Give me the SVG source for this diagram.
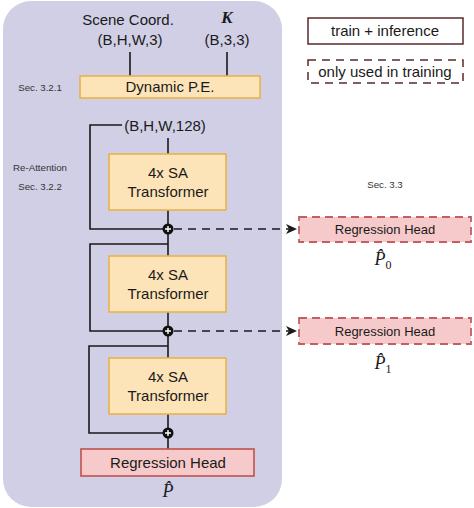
<svg xmlns="http://www.w3.org/2000/svg" width="474" height="508" viewBox="0 0 474 508">
<style>
text{font-family:"Liberation Sans",Arial,sans-serif;fill:#1a1a1a;text-anchor:middle}
.lbl{font-size:15px}
.small{font-size:9.7px;fill:#333}
.math{font-family:"Liberation Serif","DejaVu Serif",serif;font-style:italic;font-size:18px}
.tf{fill:#fde4b8;stroke:#e8b24c;stroke-width:1.6}
.rh{fill:#f6caca;stroke:#c0504d;stroke-width:1.6}
.rhd{fill:#f6caca;stroke:#c06060;stroke-width:1.8;stroke-dasharray:8,5}
.ln{fill:none;stroke:#1a1a1a;stroke-width:1.6}
.dash{fill:none;stroke:#1a1a1a;stroke-width:1.6;stroke-dasharray:8,6}
</style>
<defs>
<marker id="arr" markerWidth="12" markerHeight="10" refX="11" refY="5" orient="auto" markerUnits="userSpaceOnUse">
<path d="M0,0 L11,5 L0,10 L3,5 Z" fill="#1a1a1a"/>
</marker>
<g id="plus">
<circle r="5.5" fill="#111"/>
<path d="M-3,0 H3 M0,-3 V3" stroke="#fff" stroke-width="1.4"/>
</g>
</defs>
<rect x="3" y="1" width="279" height="506" rx="28" fill="#d0cfe5"/>
<g id="connectors">
<path class="ln" d="M130,52 V76 M227,52 V76"/>
<path class="ln" d="M168,138 V154"/>
<path class="ln" d="M122,125 H90 V229 H168"/>
<path class="ln" d="M168,210 V256"/>
<path class="ln" d="M168,244 H90 V331 H168"/>
<path class="ln" d="M168,312 V358"/>
<path class="ln" d="M168,346 H89 V433 H168"/>
<path class="ln" d="M168,414 V449"/>
<path class="dash" d="M174,229 H297" marker-end="url(#arr)"/>
<path class="dash" d="M174,331 H297" marker-end="url(#arr)"/>
</g>
<g id="inputs">
<text class="lbl" x="128" y="25">Scene Coord.</text>
<text class="lbl" x="130" y="45">(B,H,W,3)</text>
<text x="227" y="23" style="font-family:'Liberation Serif','DejaVu Serif',serif;font-style:italic;font-weight:bold;font-size:17px">K</text>
<text class="lbl" x="227" y="45">(B,3,3)</text>
</g>
<g id="pe">
<rect class="tf" x="80" y="76" width="180" height="22"/>
<text class="lbl" x="170" y="92">Dynamic P.E.</text>
<text class="small" x="40" y="91">Sec. 3.2.1</text>
</g>
<text class="lbl" x="165" y="131">(B,H,W,128)</text>
<text class="small" x="40" y="171">Re-Attention</text>
<text class="small" x="40" y="190">Sec. 3.2.2</text>
<g id="sa1">
<rect class="tf" x="109" y="154" width="117" height="56"/>
<text class="lbl" x="168" y="178">4x SA</text>
<text class="lbl" x="168" y="197">Transformer</text>
</g>
<g id="sa2">
<rect class="tf" x="109" y="256" width="117" height="56"/>
<text class="lbl" x="168" y="280">4x SA</text>
<text class="lbl" x="168" y="299">Transformer</text>
</g>
<g id="sa3">
<rect class="tf" x="109" y="358" width="117" height="56"/>
<text class="lbl" x="168" y="382">4x SA</text>
<text class="lbl" x="168" y="401">Transformer</text>
</g>
<use href="#plus" x="168" y="229"/>
<use href="#plus" x="168" y="331"/>
<use href="#plus" x="168" y="433"/>
<g id="rh-final">
<rect class="rh" x="81" y="449" width="173" height="27"/>
<text class="lbl" x="168" y="468">Regression Head</text>
<text class="math" x="168" y="497">P̂</text>
</g>
<text class="small" x="385" y="188">Sec. 3.3</text>
<g id="rh0">
<rect class="rhd" x="299" y="217" width="172" height="25"/>
<text x="385" y="234" style="font-size:13px">Regression Head</text>
<text class="math" x="383" y="265">P̂<tspan font-size="12" dy="4" font-style="normal">0</tspan></text>
</g>
<g id="rh1">
<rect class="rhd" x="299" y="318" width="172" height="26"/>
<text x="385" y="336" style="font-size:13px">Regression Head</text>
<text class="math" x="383" y="369">P̂<tspan font-size="12" dy="4" font-style="normal">1</tspan></text>
</g>
<g id="legend">
<rect x="308" y="18" width="155" height="26" fill="#fff" stroke="#5a2a2a" stroke-width="1.5"/>
<text class="lbl" x="385" y="36">train + inference</text>
<rect x="308" y="60" width="155" height="23" fill="#fff" stroke="#5a2a2a" stroke-width="1.5" stroke-dasharray="8,6"/>
<text class="lbl" x="385" y="77">only used in training</text>
</g>
</svg>
